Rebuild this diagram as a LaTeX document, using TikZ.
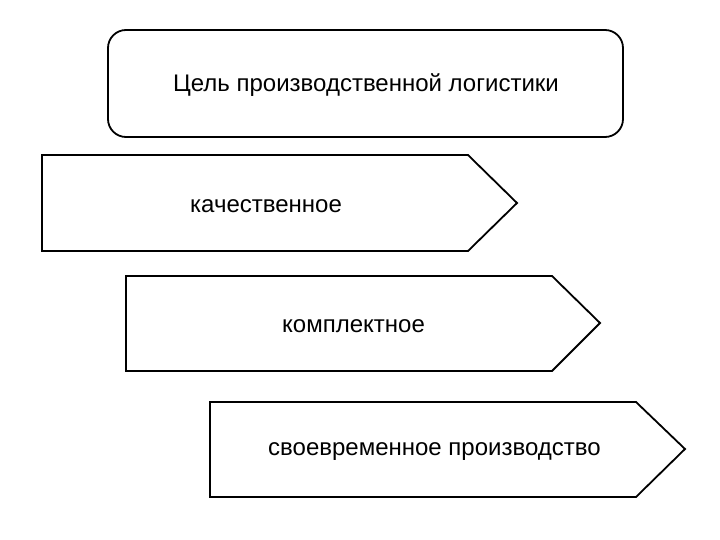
\documentclass[tikz,border=0pt]{standalone}
\usepackage{fontspec}
\setmainfont{Liberation Sans}
\begin{document}
\begin{tikzpicture}[x=1pt,y=-1pt,
  shp/.style={draw=black,line width=1.8pt,fill=white,line join=miter},
  lbl/.style={font=\fontsize{24}{28}\selectfont,inner sep=0pt}]
\useasboundingbox (0,0) rectangle (720,540);
\draw[shp,rounded corners=18pt] (108,30) rectangle (623,137);
\node[lbl] (goal) at (366,85) {Цель производственной логистики};
\draw[shp] (42,155) -- (468,155) -- (517,203) -- (468,251) -- (42,251) -- cycle;
\node[lbl,anchor=west] (a) at (190,206) {качественное};
\draw[shp] (126,276) -- (552,276) -- (600,323) -- (552,371) -- (126,371) -- cycle;
\node[lbl,anchor=west] (b) at (282,326) {комплектное};
\draw[shp] (210,402) -- (636,402) -- (685,449) -- (636,497) -- (210,497) -- cycle;
\node[lbl,anchor=west] (c) at (268,452) {своевременное производство};
\end{tikzpicture}
\end{document}
